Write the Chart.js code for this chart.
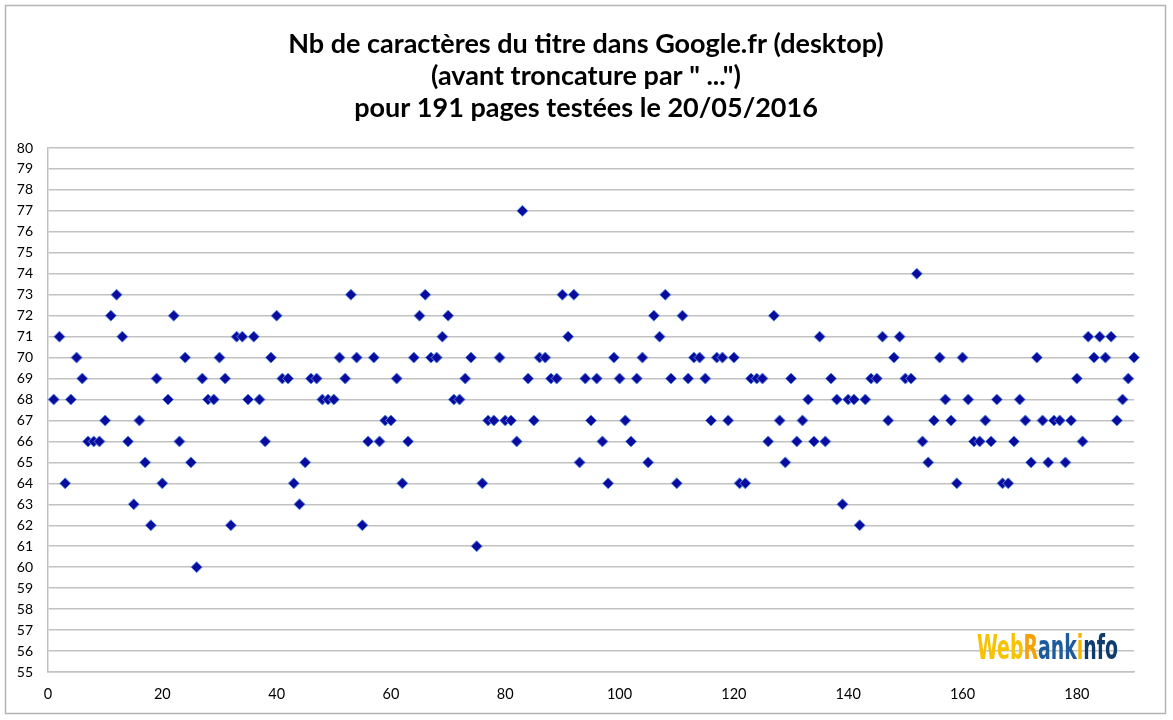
<!DOCTYPE html>
<html>
<head>
<meta charset="utf-8">
<script src="https://cdn.jsdelivr.net/npm/chart.js@4.4.1/dist/chart.umd.min.js"></script>
<style>
  html, body { margin: 0; padding: 0; background: #fff; }
  #wrap { width: 1173px; height: 720px; }
</style>
</head>
<body>
<div id="wrap"><canvas id="chart" width="1173" height="720"></canvas></div>
<script>
// Title text, one entry per line
var titleLines = [
    "Nb de caractères du titre dans Google.fr (desktop)",
    "(avant troncature par \" ...\")",
    "pour 191 pages testées le 20/05/2016"
];

// Title length (characters) for each tested page, in page order (page 1 .. 190)
var titleLengths = [
    68, 71, 64, 68, 70, 69, 66, 66, 66, 67,
    72, 73, 71, 66, 63, 67, 65, 62, 69, 64,
    68, 72, 66, 70, 65, 60, 69, 68, 68, 70,
    69, 62, 71, 71, 68, 71, 68, 66, 70, 72,
    69, 69, 64, 63, 65, 69, 69, 68, 68, 68,
    70, 69, 73, 70, 62, 66, 70, 66, 67, 67,
    69, 64, 66, 70, 72, 73, 70, 70, 71, 72,
    68, 68, 69, 70, 61, 64, 67, 67, 70, 67,
    67, 66, 77, 69, 67, 70, 70, 69, 69, 73,
    71, 73, 65, 69, 67, 69, 66, 64, 70, 69,
    67, 66, 69, 70, 65, 72, 71, 73, 69, 64,
    72, 69, 70, 70, 69, 67, 70, 70, 67, 70,
    64, 64, 69, 69, 69, 66, 72, 67, 65, 69,
    66, 67, 68, 66, 71, 66, 69, 68, 63, 68,
    68, 62, 68, 69, 69, 71, 67, 70, 71, 69,
    69, 74, 66, 65, 67, 70, 68, 67, 64, 70,
    68, 66, 66, 67, 66, 68, 64, 64, 66, 68,
    67, 65, 70, 67, 65, 67, 67, 65, 67, 69,
    66, 71, 70, 71, 70, 71, 67, 68, 69, 70
];

// Axis ranges
var xMin = 0, xMax = 190, xStep = 20;
var yMin = 55, yMax = 80, yStep = 1;

// Colors
var gridColor = "#c2c2c2";
var pointFill = "#0b0b9e";
var pointEdge = "#5a8ee0";

// Logo pieces (text, color)
var logoParts = [
    ["Web", "#f7c300"],
    ["R", "#f5a100"],
    ["ank", "#1d5b9c"],
    ["i", "#f5b400"],
    ["nfo", "#0f3c6e"]
];

// scatter points: page number on x, title length on y
var points = [];
for (var i = 0; i < titleLengths.length; i++) {
    points.push({x: i + 1, y: titleLengths[i]});
}

// outer frame around the whole picture
var framePlugin = {
    id: 'frame',
    beforeDraw: function(chart) {
        var ctx = chart.ctx;
        ctx.save();
        ctx.fillStyle = "#ffffff";
        ctx.fillRect(0, 0, chart.width, chart.height);
        ctx.strokeStyle = "#b4b4b4";
        ctx.lineWidth = 1.5;
        ctx.strokeRect(5.5, 5.5, 1160, 708);
        ctx.restore();
    }
};

// WebRankinfo logo, drawn as text
var logoPlugin = {
    id: 'logo',
    afterDatasetsDraw: function(chart) {
        var ctx = chart.ctx;
        var left = 977, right = 1118, baseline = 659;
        ctx.save();
        ctx.font = "bold 34px 'DejaVu Sans Condensed'";
        ctx.textBaseline = "alphabetic";
        var full = logoParts.map(function(p) { return p[0]; }).join("");
        var w = ctx.measureText(full).width;
        var sx = (right - left) / w;
        ctx.translate(left, baseline);
        ctx.scale(sx, 1);
        var x = 0;
        logoParts.forEach(function(p) {
            ctx.fillStyle = p[1];
            ctx.fillText(p[0], x, 0);
            x += ctx.measureText(p[0]).width;
        });
        ctx.restore();
    }
};

var ctx = document.getElementById('chart');

var chart = new Chart(ctx, {
    type: 'scatter',
    data: {
        datasets: [{
            label: 'Nb de caractères',
            data: points,
            clip: false,
            pointStyle: 'rectRot',
            pointRadius: 5.5,
            pointHoverRadius: 5.5,
            backgroundColor: pointFill,
            borderColor: pointEdge,
            borderWidth: 1
        }]
    },
    options: {
        responsive: false,
        animation: false,
        devicePixelRatio: 1,
        layout: {
            padding: {left: 6, right: 7, top: 0, bottom: 8}
        },
        plugins: {
            legend: {display: false},
            tooltip: {enabled: false},
            title: {
                display: true,
                text: titleLines,
                color: '#000',
                font: {family: 'Lato', size: 27, weight: 'bold', lineHeight: 1.185},
                padding: {top: 28, bottom: 24}
            }
        },
        scales: {
            x: {
                type: 'linear',
                min: xMin,
                max: xMax,
                grid: {display: false, drawTicks: false},
                border: {display: true, color: gridColor, width: 1.5},
                ticks: {
                    stepSize: xStep,
                    padding: 14,
                    maxRotation: 0,
                    color: '#000',
                    font: {family: 'Lato', size: 14.5},
                    callback: function(v) { return v % xStep === 0 ? v : ''; }
                },
                afterFit: function(scale) { scale.height = 40; }
            },
            y: {
                min: yMin,
                max: yMax,
                grid: {color: gridColor, lineWidth: 1.5, drawTicks: false},
                border: {display: true, color: gridColor, width: 1.5},
                ticks: {
                    stepSize: yStep,
                    padding: 15,
                    color: '#000',
                    font: {family: 'Lato', size: 14}
                },
                afterFit: function(scale) { scale.width = 42; }
            },
            // empty right-hand margin so the plot ends where the reference does
            yRight: {
                position: 'right',
                min: yMin,
                max: yMax,
                grid: {display: false, drawTicks: false},
                border: {display: false},
                ticks: {display: false},
                afterFit: function(scale) { scale.width = 32; }
            }
        }
    },
    plugins: [framePlugin, logoPlugin]
});
</script>
</body>
</html>
